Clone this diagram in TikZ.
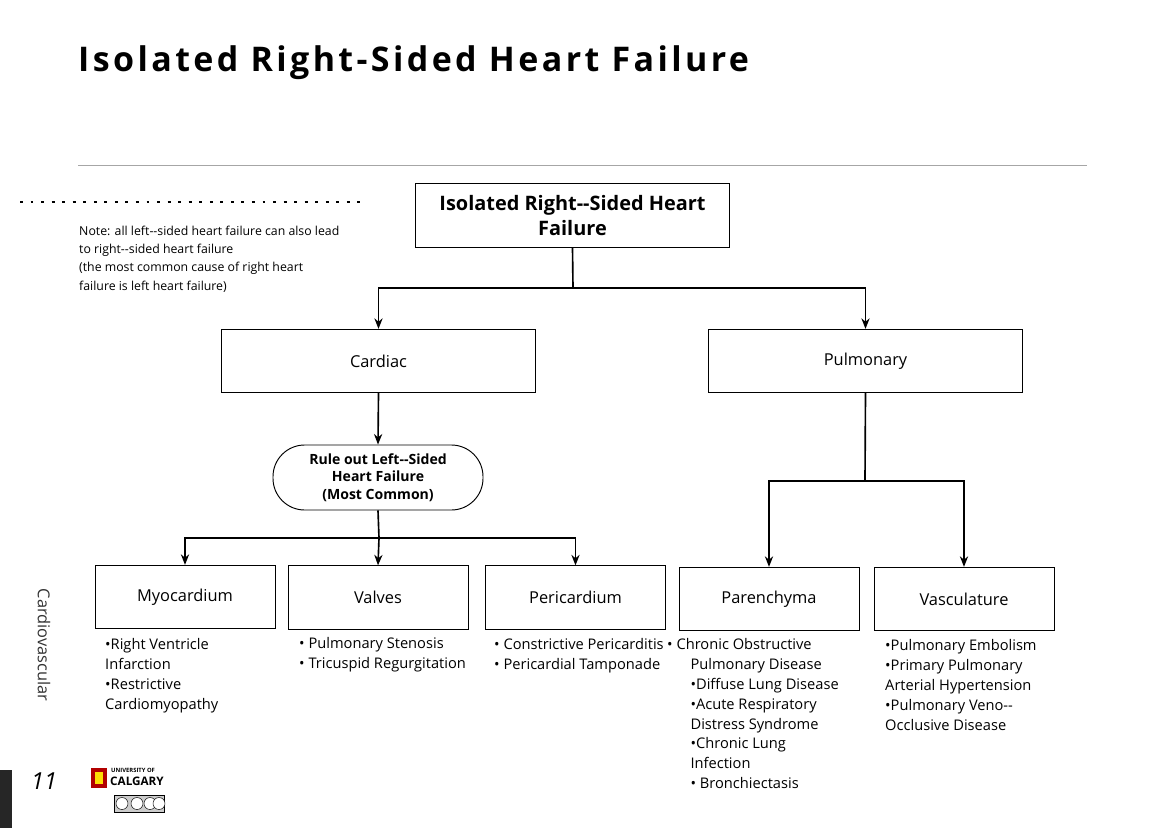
\documentclass[tikz,border=0pt]{standalone}
\usepackage{fontspec}
\setmainfont{Open Sans}
\usetikzlibrary{positioning,arrows.meta}
\tikzset{
  box/.style={draw, thick, minimum width=9.4cm, minimum height=1.9cm, align=center, font=\fontsize{14}{16}\selectfont},
  small/.style={draw, thick, minimum width=5.4cm, minimum height=1.9cm, align=center, font=\fontsize{14}{16}\selectfont},
  list/.style={anchor=north west, align=left, inner sep=0pt, font=\fontsize{12.5}{17}\selectfont},
  link/.style={line width=1.4pt},
  arr/.style={link, -{Stealth[length=9pt,width=7pt]}}
}
\begin{document}
\begin{tikzpicture}[x=0.03cm,y=-0.03cm]
  \useasboundingbox (0,0) rectangle (1167,828);
  % titel
  \node[anchor=west, inner sep=0pt, font=\fontsize{29}{32}\bfseries\addfontfeature{LetterSpace=10}] (title) at (78,63) {Isolated Right-Sided Heart Failure};
  \draw[gray!70] (78,165) -- (1087,165);
  \draw[line width=2.5pt, dash pattern=on 2.5pt off 6.5pt] (20,202) -- (362,202);
  \node[list, font=\fontsize{10.5}{15.5}\selectfont] (note) at (79,226) {Note: all left-{}-sided heart failure can also lead\\to right-{}-sided heart failure\\(the most common cause of right heart\\failure is left heart failure)};
  % boxen
  \node[draw, thick, minimum width=9.4cm, minimum height=1.9cm, align=center, font=\fontsize{17}{22}\bfseries\selectfont] (top) at (572.5,215.5) {Isolated Right-{}-Sided Heart\\Failure};
  \node[box] (cardiac) at (378.5,361) {Cardiac};
  \node[box] (pulm) at (865.5,361) {Pulmonary};
  \node[draw, thick, rounded corners=0.95cm, minimum width=6.3cm, minimum height=1.95cm, align=center, font=\fontsize{12}{15}\bfseries\selectfont] (rule) at (378,477.5) {Rule out Left-{}-Sided\\Heart Failure\\(Most Common)};
  \node[small] (myo) at (185,597) {Myocardium};
  \node[small] (valves) at (378,597.5) {Valves};
  \node[small] (peri) at (575.5,597.5) {Pericardium};
  \node[small] (paren) at (769,599) {Parenchyma};
  \node[small] (vasc) at (964,599) {Vasculature};
  % verbindungen
  \coordinate (j1) at (573,288);
  \coordinate (j2) at (379,538);
  \coordinate (j3) at (865,481);
  \draw[link] (top.south) -- (j1);
  \draw[arr] (j1) -| (cardiac.north);
  \draw[arr] (j1) -| (pulm.north);
  \draw[arr] (cardiac.south) -- (rule.north);
  \draw[link] (rule.south) -- (j2);
  \draw[arr] (j2) -| (myo.north);
  \draw[arr] (j2) -- (valves.north);
  \draw[arr] (j2) -| (peri.north);
  \draw[link] (pulm.south) -- (j3);
  \draw[arr] (j3) -| (paren.north);
  \draw[arr] (j3) -| (vasc.north);
  % listen
  \node[list] (l1) at (105,638) {•Right Ventricle\\Infarction\\•Restrictive\\Cardiomyopathy};
  \node[list] (l2) at (299,637) {• Pulmonary Stenosis\\• Tricuspid Regurgitation};
  \node[list] (l3) at (494,638) {• Constrictive Pericarditis\\• Pericardial Tamponade};
  \node[list] (l4) at (667,638) {• Chronic Obstructive\\\hspace*{0.7cm}Pulmonary Disease\\\hspace*{0.7cm}•Diffuse Lung Disease\\\hspace*{0.7cm}•Acute Respiratory\\\hspace*{0.7cm}Distress Syndrome\\\hspace*{0.7cm}•Chronic Lung\\\hspace*{0.7cm}Infection\\\hspace*{0.7cm}• Bronchiectasis};
  \node[list] (l5) at (885,639) {•Pulmonary Embolism\\•Primary Pulmonary\\Arterial Hypertension\\•Pulmonary Veno-{}-\\Occlusive Disease};
  % rand
  \node[rotate=-90, font=\fontsize{14}{16}\selectfont, text=black!80] (side) at (44,645) {Cardiovascular};
  \fill[black!85] (0,770) rectangle (12,828);
  \node[font=\fontsize{20}{22}\itshape\selectfont, inner sep=0pt] (page) at (44,781) {11};
  \fill[red!70!black] (91,768) rectangle (107,788);
  \fill[yellow!80!orange] (95,772) rectangle (103,784);
  \node[anchor=west, inner sep=0pt, font=\fontsize{5}{6}\bfseries\selectfont] (uni) at (111,770) {UNIVERSITY OF};
  \node[anchor=west, inner sep=0pt, font=\fontsize{10}{11}\bfseries\selectfont] (cal) at (110,781) {CALGARY};
  \draw[fill=gray!40] (114,795) rectangle (164,812);
  \foreach \cx in {122,137,150,159} \draw[fill=white] (\cx,803.5) circle (6);
\end{tikzpicture}
\end{document}
